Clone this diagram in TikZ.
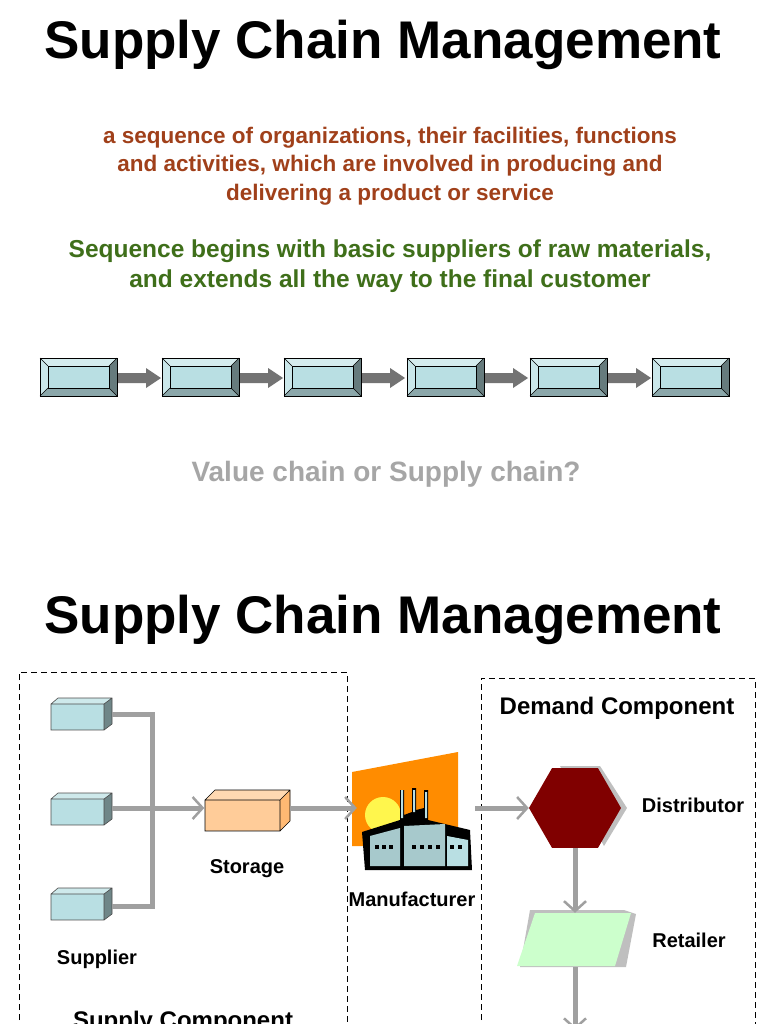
\documentclass[tikz,border=0pt]{standalone}
\usepackage{fontspec}
\setmainfont{Liberation Sans}
\usetikzlibrary{shapes.geometric,arrows.meta,calc}
\definecolor{otxt}{HTML}{A0401A}
\definecolor{gtxt}{HTML}{3F6F1A}
\definecolor{face}{HTML}{B9DFE3}
\definecolor{conn}{HTML}{A0A0A0}
\begin{document}
\begin{tikzpicture}[x=1pt,y=-1pt,
 title/.style={font=\bfseries\fontsize{53}{56}\selectfont},
 lbl/.style={font=\bfseries\fontsize{20}{22}\selectfont},
 big/.style={font=\bfseries\fontsize{24}{26}\selectfont},
 flow/.style={conn,line width=5pt,-{Straight Barb[length=10pt,width=22pt,line width=2.5pt]}},
]
\useasboundingbox (0,0) rectangle (768,1024);
\node[title] (t1) at (383,45) {Supply Chain Management};
\node[font=\bfseries\fontsize{22.5}{28.5}\selectfont,color=otxt,align=center] (d1) at (390,166) {a sequence of organizations, their facilities, functions\\and activities, which are involved in producing and\\delivering a product or service};
\node[font=\bfseries\fontsize{24.5}{30}\selectfont,color=gtxt,align=center] (d2) at (390,266) {Sequence begins with basic suppliers of raw materials,\\and extends all the way to the final customer};
% bevel boxes
\foreach \i/\x in {1/40,2/162,3/284,4/407,5/530,6/652}{
 \coordinate (b\i) at (\x,358);
 \fill[face] (\x,358) rectangle ++(77,38);
 \fill[face!60!white] (\x,358) -- ++(77,0) -- ++(-8,8) -- ++(-61,0) -- cycle;
 \fill[face!75!white] (\x,358) -- ++(8,8) -- ++(0,22) -- ++(-8,8) -- cycle;
 \fill[face!55!black] (\x+77,358) -- ++(0,38) -- ++(-8,-8) -- ++(0,-22) -- cycle;
 \fill[face!75!black] (\x,396) -- ++(77,0) -- ++(-8,-8) -- ++(-61,0) -- cycle;
 \draw[black,line width=0.8pt] (\x,358) rectangle ++(77,38) (\x+8,366) rectangle ++(61,22);
 \draw[black,line width=0.6pt] (\x,358)--++(8,8) (\x+77,358)--++(-8,8) (\x,396)--++(8,-8) (\x+77,396)--++(-8,-8);
}
\foreach \a/\b in {1/2,2/3,3/4,4/5,5/6}{
 \fill[gray!90!black] ($(b\a)+(78,15)$) -- ++(28,0) -- ++(0,-5) -- ++(15,10) -- ++(-15,10) -- ++(0,-5) -- ++(-28,0) -- cycle;
}
\node[font=\bfseries\fontsize{28}{30}\selectfont,color=gray!70] (q) at (386,474) {Value chain or Supply chain?};
\node[title] (t2) at (383,620) {Supply Chain Management};
% dashed boxes
\draw[line width=1pt,dash pattern=on 6pt off 4pt] (19,1030) -- (19,672) -- (347,672) -- (347,1030);
\draw[line width=1pt,dash pattern=on 6pt off 4pt] (481,1030) -- (481,678) -- (755,678) -- (755,1030);
\node[big] (dc) at (617,708) {Demand Component};
\node[big,anchor=north] (sc) at (183,1008) {Supply Component};
% supplier cubes
\foreach \i/\y in {1/698,2/793,3/888}{
 \fill[face] (51,\y+6) rectangle (104,\y+32);
 \fill[face!70!white] (51,\y+6) -- (58,\y) -- (112,\y) -- (104,\y+6) -- cycle;
 \fill[face!60!black] (104,\y+6) -- (112,\y) -- (112,\y+26) -- (104,\y+32) -- cycle;
 \draw[line width=0.6pt,black!70] (51,\y+6) rectangle (104,\y+32) (51,\y+6) -- (58,\y) -- (112,\y) -- (112,\y+26) -- (104,\y+32) (104,\y+6)--(112,\y);
}
\coordinate (s1) at (112,714); \coordinate (s2) at (112,808); \coordinate (s3) at (112,906);
\coordinate (j1) at (152,714); \coordinate (j3) at (152,906); \coordinate (j2) at (152,808);
\draw[conn,line width=5pt] (s1) -- (j1) -- (j3) -- (s3);
\draw[conn,line width=5pt] (s2) -- (j2);
% storage
\fill[orange!40] (205,800) rectangle (280,831);
\fill[orange!30] (205,800) -- (215,790) -- (290,790) -- (280,800) -- cycle;
\fill[orange!55] (280,800) -- (290,790) -- (290,821) -- (280,831) -- cycle;
\draw[line width=0.6pt] (205,800) rectangle (280,831) (205,800) -- (215,790) -- (290,790) -- (290,821) -- (280,831) (280,800)--(290,790);
\node[inner sep=0,minimum width=85,minimum height=36] (st) at (247,808) {};
\draw[flow] (j2) -- (st.west);
\node[lbl] (stl) at (247,869) {Storage};
% factory
\node[inner sep=0,minimum width=110,minimum height=110] (fac) at (412,808) {};
\fill[orange!90!yellow] (352,772) -- (458,752) -- (458,846) -- (352,846) -- cycle;
\fill[yellow!70] (383,815) circle (18);
\fill[black] (362,832) -- (400,820) -- (400,790) -- (404,790) -- (404,815) -- (412,812) -- (412,788) -- (416,788) -- (416,810) -- (424,808) -- (424,790) -- (428,790) -- (428,820) -- (470,830) -- (472,870) -- (365,870) -- cycle;
\fill[face!90!black] (370,836) -- (400,828) -- (400,866) -- (370,866) -- cycle;
\fill[face!90!black] (404,826) -- (445,824) -- (445,866) -- (404,866) -- cycle;
\fill[face] (447,836) -- (468,840) -- (468,866) -- (447,866) -- cycle;
\fill[face] (401,790) rectangle (403,818) (413,790) rectangle (415,812) (425,792) rectangle (427,818);
\foreach \xx in {375,382,389,412,420,428,436,450,458}{\fill[black] (\xx,845) rectangle ++(4,4);}
\node[lbl] (ml) at (412,899) {Manufacturer};
\draw[flow] (st.east) -- (fac.west);
% hexagon
\fill[gray!50] (560,766) -- (600,766) -- (627,808) -- (604,846) -- cycle;
\node[regular polygon,regular polygon sides=6,fill=red!50!black,minimum size=92pt,inner sep=0] (hex) at (575,808) {};
\node[lbl] (dl) at (693,805) {Distributor};
\draw[flow] ($(fac.east)+(8,0)$) -- (hex.west);
% parallelogram
\fill[gray!50] (530,910) -- (624,910) -- (636,914) -- (626,967) -- (520,967) -- cycle;
\fill[green!20] (535,913) -- (631,913) -- (615,966) -- (517,966) -- cycle;
\node[inner sep=0,minimum width=110,minimum height=54] (ret) at (575,940) {};
\node[lbl] (rl) at (689,940) {Retailer};
\draw[flow] (hex.south) -- (ret.north);
\coordinate (end) at (575,1030);
\draw[flow] (ret.south) -- (end);
\node[lbl] (sl) at (97,959) {Supplier};
\end{tikzpicture}
\end{document}
